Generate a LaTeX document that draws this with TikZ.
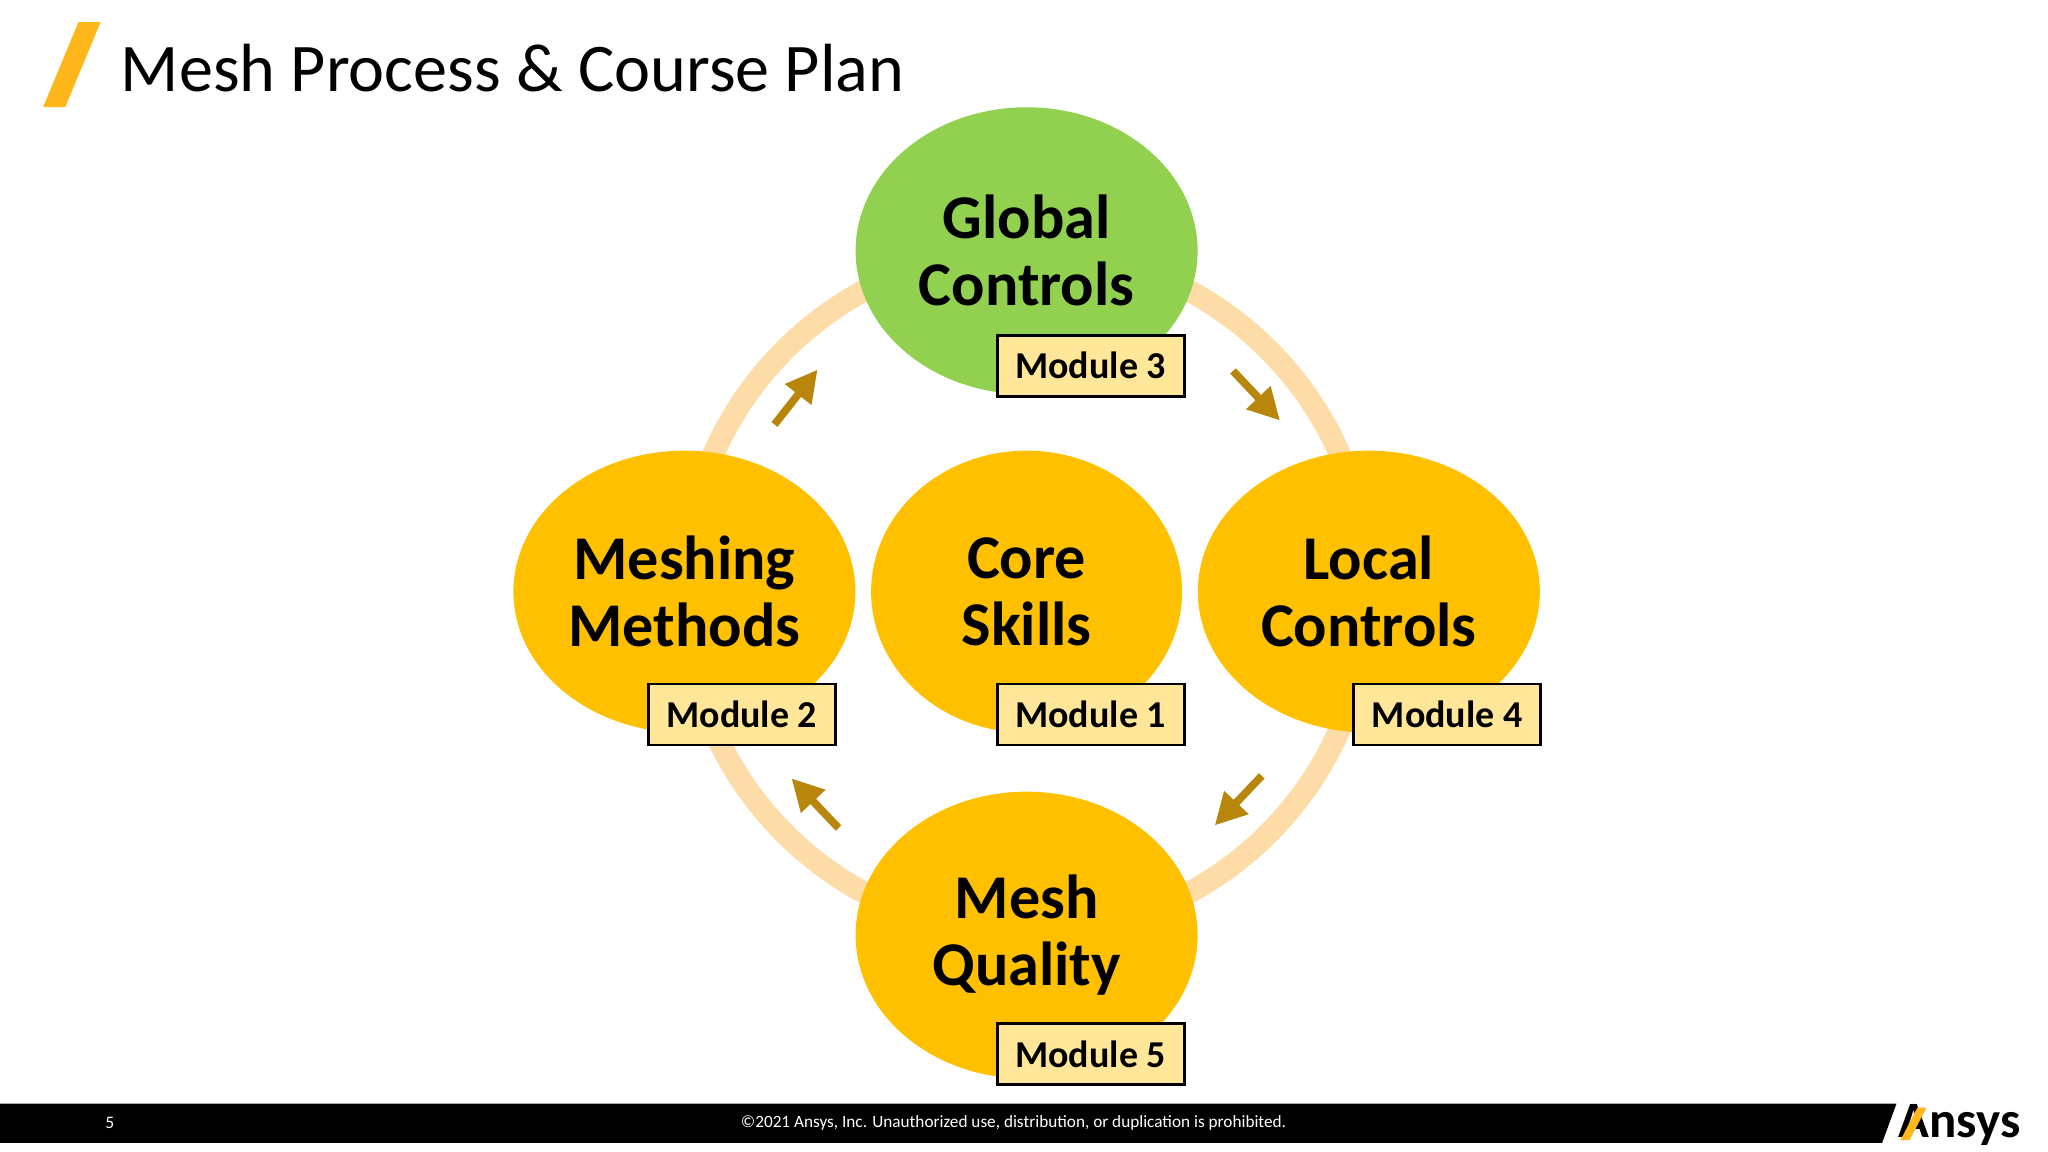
\documentclass[tikz,border=0pt]{standalone}
\usepackage{fontspec}
\setmainfont{Carlito}
\usetikzlibrary{positioning,arrows.meta,shapes.geometric}
\definecolor{ansysgold}{HTML}{FFB71B}
\definecolor{bubblegreen}{HTML}{92D050}
\definecolor{bubbleyellow}{HTML}{FFC000}
\definecolor{ringtan}{HTML}{FDDCA8}
\definecolor{boxfill}{HTML}{FFE699}
\definecolor{arrowgold}{HTML}{B8860B}
\tikzset{
bubble/.style={
  ellipse, fill=bubbleyellow, minimum width=3.42cm, minimum height=2.87cm,
  align=center, font=\fontsize{17.7}{19}\selectfont\bfseries, inner sep=0pt
  },
modbox/.style={
  draw=black, fill=boxfill, line width=0.8pt, minimum width=1.87cm,
  minimum height=0.61cm, font=\fontsize{10.8}{13}\selectfont\bfseries, inner sep=0pt
  },
stepar/.style={-{Triangle[length=9pt,width=9pt]}, draw=arrowgold, line width=2.2pt}
}

\begin{document}
\begin{tikzpicture}[x=0.01306cm, y=-0.01306cm]
\useasboundingbox (0,0) rectangle (1568,882);

% title
\fill[ansysgold] (33,82) -- (50,82) -- (77,17) -- (60,17) -- cycle;
\node[anchor=west, font=\fontsize{19.4}{22}\selectfont] (title) at (83,52) {Mesh Process \& Course Plan};

% ring
\draw[ringtan, line width=0.22cm] (786,453) circle [radius=3.42cm];

% bubbles
\node[bubble, fill=bubblegreen] (global) at (786,192) {Global\\Controls};
\node[bubble, minimum width=3.11cm, minimum height=2.82cm] (core) at (786,453) {Core\\Skills};
\node[bubble, minimum height=2.82cm] (methods) at (524,453) {Meshing\\Methods};
\node[bubble, minimum height=2.82cm] (local) at (1048,453) {Local\\Controls};
\node[bubble] (quality) at (786,716) {Mesh\\Quality};

% module boxes
\node[modbox] (mod3) at (835,280) {Module 3};
\node[modbox] (mod2) at (568,547) {Module 2};
\node[modbox] (mod1) at (835,547) {Module 1};
\node[modbox] (mod4) at (1108,547) {Module 4};
\node[modbox] (mod5) at (835,807) {Module 5};

% direction arrows
\coordinate (a1) at (593,325); \coordinate (b1) at (626,283);
\coordinate (a2) at (944,284); \coordinate (b2) at (980,322);
\coordinate (a3) at (966,594); \coordinate (b3) at (930,632);
\coordinate (a4) at (642,634); \coordinate (b4) at (606,596);
\draw[stepar] (a1) -- (b1);
\draw[stepar] (a2) -- (b2);
\draw[stepar] (a3) -- (b3);
\draw[stepar] (a4) -- (b4);

% footer
\fill[black] (0,845) -- (1452,845) -- (1441,875) -- (0,875) -- cycle;
\node[white, font=\fontsize{5}{6}\selectfont] (page) at (84,860) {5};
\node[white, font=\fontsize{4.9}{6}\selectfont] (copy) at (776,860) {©2021 Ansys, Inc. Unauthorized use, distribution, or duplication is prohibited.};
\node[anchor=west, font=\fontsize{14.5}{16}\selectfont\bfseries, inner sep=0pt] (logo) at (1453,861) {Ansys};
\fill[ansysgold] (1455,873) -- (1462,873) -- (1475,848) -- (1468,848) -- cycle;
\end{tikzpicture}
\end{document}
